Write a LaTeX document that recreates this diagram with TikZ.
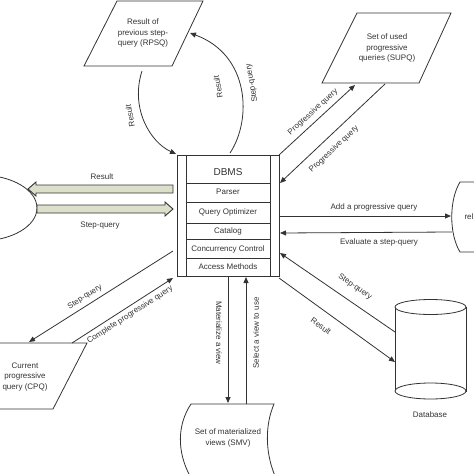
\documentclass[tikz,border=0pt]{standalone}
\usepackage{fontspec}
\setmainfont{Liberation Sans}
\usetikzlibrary{arrows.meta}
\definecolor{ink}{HTML}{333333}
\definecolor{pale}{HTML}{DCE0CB}
\begin{document}
\begin{tikzpicture}[x=1pt,y=-1pt,
  ln/.style={draw=ink, line width=0.8pt},
  arr/.style={ln, -{Triangle[length=6pt,width=5pt]}},
  lbl/.style={font=\fontsize{8}{9.5}\selectfont, text=ink, inner sep=1pt},
  shp/.style={draw=ink, line width=0.8pt, fill=white},
  boxtxt/.style={font=\fontsize{8}{10.5}\selectfont, align=center, text=ink},
  rowtxt/.style={font=\fontsize{8}{9.5}\selectfont, text=ink},
  hollow/.style={draw=ink, line width=0.9pt, fill=pale}]
\useasboundingbox (0,0) rectangle (474,474);
\clip (0,0) rectangle (474,474);

% ---- shapes ----
% RPSQ
\draw[shp] (84,66) -- (172,66) -- (203,1) -- (117,1) -- cycle;
\node[boxtxt] (rpsq) at (143,33) {Result of\\previous step-\\query (RPSQ)};
% SUPQ
\draw[shp] (322,83) -- (419,83) -- (451,13) -- (357,13) -- cycle;
\node[boxtxt] (supq) at (387,48) {Set of used\\progressive\\queries (SUPQ)};
% left ellipse
\draw[shp] (-20,208) ellipse [x radius=57, y radius=33];
% rel
\draw[shp] (480,182) -- (460,182) .. controls (449,200) and (449,234) .. (460,252) -- (480,252);
\node[rowtxt, anchor=west] (rel) at (461,217) {rel};
% Database
\draw[shp] (395,307) rectangle (466,391);
\draw[shp] (430.5,391) ellipse [x radius=35.5, y radius=8];
\draw[shp] (430.5,307) ellipse [x radius=35.5, y radius=7.5];
\node[rowtxt] (dbl) at (430,415) {Database};
% CPQ
\draw[shp] (-40,343) -- (87,343) -- (53,409) -- (-70,409) -- cycle;
\node[boxtxt] (cpq) at (25,377) {Current\\progressive\\query (CPQ)};
% SMV
\draw[shp] (191,404) -- (274,404) .. controls (265,425) and (265,452) .. (275,476)
  -- (190,476) .. controls (177,452) and (177,425) .. (191,404) -- cycle;
\node[boxtxt] (smv) at (228,438) {Set of materialized\\views (SMV)};

% DBMS
\draw[shp] (177,155) rectangle (279,276);
\draw[ln] (186,155) -- (186,276) (270,155) -- (270,276);
\foreach \y in {183,202,223,239,258} \draw[ln] (186,\y) -- (270,\y);
\node[font=\fontsize{10}{12}\selectfont, text=ink] (dbms) at (228,172) {DBMS};
\node[rowtxt] (parser) at (228,192) {Parser};
\node[rowtxt] (qo) at (228,212) {Query Optimizer};
\node[rowtxt] (cat) at (228,231) {Catalog};
\node[rowtxt] (cc) at (228,249) {Concurrency Control};
\node[rowtxt] (am) at (228,267) {Access Methods};

% ---- anchor coordinates ----
\coordinate (rpsqB) at (142,71);
\coordinate (rpsqR) at (190,33);
\coordinate (dbTL) at (176,154);
\coordinate (dbTop) at (230,153);
\coordinate (dbTR) at (279,155);
\coordinate (dbR1) at (280,183);
\coordinate (dbR2) at (280,216);
\coordinate (dbR3) at (280,233);
\coordinate (dbR4) at (280,253);
\coordinate (dbBR) at (279,278);
\coordinate (dbB1) at (228,277);
\coordinate (dbB2) at (246,277);
\coordinate (dbL1) at (173,251);
\coordinate (dbBL) at (173,278);
\coordinate (supqB1) at (355,85);
\coordinate (supqB2) at (385,84);
\coordinate (relL1) at (451,216);
\coordinate (relL2) at (452,232);
\coordinate (dbaseL1) at (395,332);
\coordinate (dbaseL2) at (395,362);
\coordinate (cpqT1) at (29,342);
\coordinate (cpqT2) at (72,343);
\coordinate (smvT1) at (228,403);
\coordinate (smvT2) at (246,404);

% ---- connectors ----
\draw[arr] (rpsqB) .. controls (130,108) and (150,142) .. (dbTL);
\draw[arr] (dbTop) .. controls (252,120) and (250,55) .. (rpsqR);
\node[lbl, rotate=100] (l1) at (130,116) {Result};
\node[lbl, rotate=100] (l2) at (218,87) {Result};
\node[lbl, rotate=100] (l3) at (252,83) {Step-query};

\draw[arr] (dbTR) -- (supqB1);
\node[lbl, rotate=42.6] (l4) at (313,112) {Progressive query};
\draw[arr] (supqB2) -- (dbR1);
\node[lbl, rotate=43.3] (l5) at (334,149) {Progressive query};

\draw[arr] (dbR2) -- (relL1);
\node[lbl] (l6) at (374,207) {Add a progressive query};
\draw[arr] (relL2) -- (dbR3);
\node[lbl] (l7) at (379,242) {Evaluate a step-query};

\draw[arr] (dbaseL1) -- (dbR4);
\node[lbl, rotate=-34.8] (l8) at (355,287) {Step-query};
\draw[arr] (dbBR) -- (dbaseL2);
\node[lbl, rotate=-35.9] (l9) at (321,326) {Result};

\draw[arr] (dbL1) -- (cpqT1);
\node[lbl, rotate=32.3] (l10) at (85,297) {Step-query};
\draw[arr] (cpqT2) -- (dbBL);
\node[lbl, rotate=32.8] (l11) at (130,315) {Complete progressive query};

\draw[arr] (dbB1) -- (smvT1);
\node[lbl, rotate=-90] (l12) at (219,333) {Materialize a view};
\draw[arr] (smvT2) -- (dbB2);
\node[lbl, rotate=90] (l13) at (256,333) {Select a view to use};

% hollow arrows
\draw[hollow] (173,185) -- (36,185) -- (36,182) -- (28,189) -- (36,196) -- (36,193) -- (173,193) -- cycle;
\draw[hollow] (37,205) -- (165,205) -- (165,202) -- (173,209) -- (165,216) -- (165,213) -- (37,213) -- cycle;
\node[lbl] (l14) at (102,177) {Result};
\node[lbl] (l15) at (100,226) {Step-query};
\end{tikzpicture}
\end{document}
